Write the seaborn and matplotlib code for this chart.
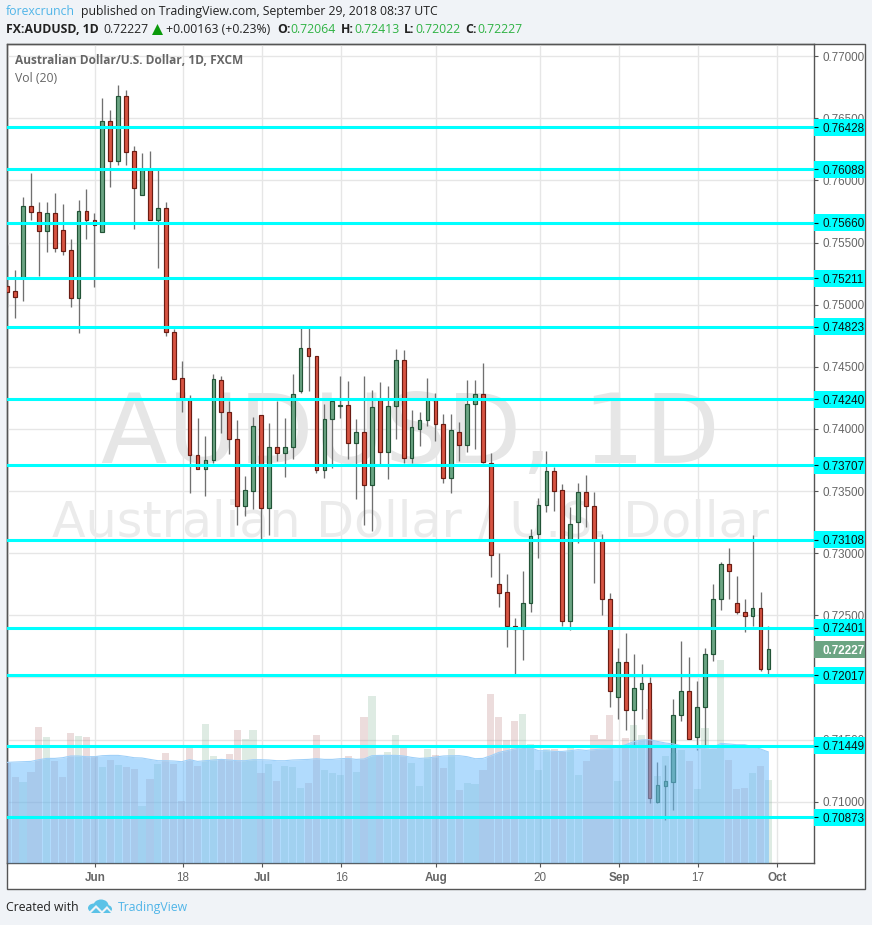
import numpy as np
import pandas as pd
import matplotlib
matplotlib.use('Agg')
import matplotlib.pyplot as plt
from matplotlib.patches import Polygon, Rectangle, Ellipse
import seaborn as sns

W, H = 872, 925

opens = [.75150, .75110, .75214, .75794, .75745, .75593, .75737, .75601, .75440, .75054,
         .75753, .75681, .75584, .76478, .76156, .76679, .76237, .75883, .76084, .75681,
         .75778, .74780, .74410, .74233, .73790, .73677, .73750, .74394, .74136, .73919,
         .73380, .73500, .74112, .73364, .73854, .73806, .73854, .74306, .74652, .74587,
         .73669, .74080, .74185, .74193, .73887, .73975, .73549, .74233, .73814, .74185,
         .74555, .73766, .73999, .74072, .74241, .74040, .73605, .73975, .73870, .74201,
         .74281, .73725, .72752, .72687, .72414, .72390, .72599, .73154, .73388, .73661,
         .73508, .72454, .73251, .73492, .73380, .73106, .72631, .71842, .72124, .71738,
         .71907, .71955, .70998, .71126, .71158, .71697, .71891, .71521, .71762, .72188,
         .72631, .72913, .72599, .72526, .72494, .72559, .72064]
highs = [.75480, .75279, .75866, .76059, .75826, .75826, .75898, .75810, .75528, .75842,
         .75931, .75737, .76663, .76566, .76768, .76728, .76277, .76221, .76237, .76084,
         .75826, .74805, .74547, .74273, .74088, .73943, .74442, .74426, .74225, .74072,
         .73621, .74096, .74112, .74048, .74225, .74088, .74442, .74813, .74813, .74587,
         .74201, .74241, .74426, .74386, .74080, .74426, .74314, .74378, .74346, .74644,
         .74636, .74153, .74136, .74410, .74289, .74120, .74120, .74056, .74394, .74394,
         .74530, .73806, .73001, .72832, .72478, .72856, .73195, .73444, .73822, .73694,
         .73557, .73372, .73565, .73629, .73492, .73154, .72680, .72237, .72358, .72188,
         .72108, .72003, .71320, .71295, .71826, .72294, .72165, .71971, .72237, .72752,
         .72929, .73042, .72816, .72631, .73146, .72687, .72413]
lows = [.74982, .74893, .75030, .75681, .75230, .75424, .75424, .75400, .74982, .74772,
        .75528, .75142, .75584, .75947, .76124, .76124, .75609, .75883, .75681, .75295,
        .74748, .74402, .74136, .73484, .73677, .73460, .73725, .73967, .73798, .73227,
        .73299, .73356, .73114, .73146, .73742, .73613, .73758, .74289, .74306, .73645,
        .73605, .73685, .74088, .73758, .73436, .73227, .73178, .73717, .73597, .73919,
        .73725, .73725, .73862, .74024, .73903, .73565, .73484, .73742, .73814, .73838,
        .73725, .72808, .72567, .72245, .72028, .72140, .72526, .72961, .73332, .73340,
        .72414, .72382, .73082, .73211, .72760, .72502, .71762, .71665, .71577, .71456,
        .71665, .70990, .70990, .70853, .70933, .71649, .71504, .71416, .71440, .72132,
        .72543, .72631, .72510, .72366, .72414, .72052, .72022]
closes = [.75102, .75061, .75794, .75745, .75593, .75737, .75456, .75432, .75054, .75753,
          .75681, .75641, .76478, .76156, .76679, .76229, .75939, .76084, .75681, .75778,
          .74780, .74402, .74249, .73790, .73677, .73750, .74402, .74136, .73919, .73380,
          .73508, .74024, .73364, .73854, .73806, .73854, .74281, .74652, .74587, .73669,
          .74080, .74225, .74193, .73887, .73975, .73549, .74177, .73814, .74185, .74555,
          .73766, .74016, .74072, .74241, .74040, .73605, .73991, .73870, .74201, .74281,
          .73734, .72985, .72680, .72414, .72390, .72599, .73138, .73388, .73661, .73500,
          .72454, .73235, .73492, .73380, .73106, .72631, .71891, .72124, .71738, .71915,
          .71955, .71030, .71134, .71166, .71697, .71891, .71504, .71762, .72188, .72631,
          .72913, .72856, .72526, .72494, .72559, .72068, .72227]

volumes = [100, 86, 81, 91, 136, 126, 102, 86, 130, 127, 126, 107, 96, 103, 98, 96, 94, 57, 84, 99,
           110, 99, 62, 118, 97, 139, 107, 104, 109, 133, 124, 133, 90, 99, 82, 97, 96, 75, 80, 128,
           93, 90, 88, 107, 91, 146, 167, 107, 111, 128, 118, 100, 77, 114, 108, 95, 114, 73, 80, 79,
           93, 169, 146, 123, 142, 149, 119, 93, 114, 114, 111, 118, 88, 102, 128, 124, 148, 82, 125, 138,
           128, 154, 87, 107, 110, 113, 102, 74, 135, 114, 203, 103, 74, 75, 90, 97, 83]
vol_ma = [100.3, 100.7, 101, 101.3, 103, 104.3, 104.3, 105, 106.7, 106.7, 106, 106, 107, 107.3, 107.3,
          106.3, 105, 104.7, 103.3, 102, 102, 101.7, 101, 103, 101.3, 102, 102.7, 103.3, 102.7, 102,
          102, 103, 103, 102.7, 102, 102, 102.7, 103, 103.3, 104, 103.3, 103.3, 104, 104.3, 103.3,
          103.7, 107, 107.3, 107.3, 107.3, 106.7, 105.3, 104.3, 104.7, 105.7, 106.7, 107, 107, 106, 104,
          104.3, 107, 110.3, 112, 113.7, 115.3, 115, 112, 112, 111.3, 111.3, 112, 113, 112.3, 113,
          113.7, 114, 115.3, 118, 121, 122.7, 123, 121.3, 119.7, 118.7, 117, 116, 114.3, 114.3, 115.3,
          119.3, 118.7, 118, 118, 116, 113.7, 110.7]

y_ticks = [.77, .765, .76, .755, .75, .745, .74, .735, .73, .725, .72, .715, .71]
x_tick_pos = [11, 22, 32, 42, 54, 67, 77, 87, 97]
x_tick_labels = ['Jun', '18', 'Jul', '16', 'Aug', '20', 'Sep', '17', 'Oct']
levels = [.76428, .76088, .75660, .75211, .74823, .74240, .73707, .73108, .72401, .72017, .71449, .70873]
last_price = .72227

RED, RED_EDGE = '#d75442', '#6b1c13'
GREEN, GREEN_EDGE = '#6ba583', '#225437'
CYAN = '#00ffff'
AXIS_GREY = '#555555'

sns.set_theme(style='white')
plt.rcParams['font.family'] = ['Liberation Sans', 'DejaVu Sans']


def fx(x):
    return x / W


def fy(y):
    return 1 - y / H


def put(x, y, s, **kw):
    kw.setdefault('va', 'center')
    return fig.text(fx(x), fy(y), s, **kw)


fig = plt.figure(figsize=(W / 100, H / 100), dpi=100, facecolor='#f0f3f7')

# outer white frame, has to stay under the axes
fig.patches.append(Rectangle((fx(6.5), fy(888.5)), fx(858.5), 845 / H, transform=fig.transFigure,
                             facecolor='white', edgecolor=AXIS_GREY, lw=1.0, zorder=-5))

ax_rect = [fx(6.5), fy(862.7), fx(807.8), 819.2 / H]
ax = fig.add_axes(ax_rect, facecolor='none')
vol_ax = fig.add_axes(ax_rect, facecolor='none')
top_ax = fig.add_axes(ax_rect, facecolor='none')

x_lim = (-0.088, 101.78)
y_lim = (.70509, .77102)
idx = np.arange(len(opens))
opens_a, closes_a = np.array(opens), np.array(closes)
up = closes_a >= opens_a

# price pane
ax.set_xlim(x_lim)
ax.set_ylim(y_lim)
ax.set_xticks(np.array(x_tick_pos) + 0.13)
ax.set_xticklabels(x_tick_labels)
ax.yaxis.tick_right()
ax.set_yticks(y_ticks)
# 0.72000 sits fully behind the 0.72017 box
ax.set_yticklabels(['' if v == .72 else f'{v:.5f}' for v in y_ticks])
ax.grid(True, color='#e6e6e6', lw=1.0)
ax.set_axisbelow(True)
ax.tick_params(axis='y', right=True, length=3, width=0.8, color=AXIS_GREY, labelsize=8.4,
               labelcolor='#666666', pad=3)
ax.tick_params(axis='x', bottom=True, length=3, width=0.8, color=AXIS_GREY, labelsize=8.4,
               labelcolor='#666666', pad=4)
for lab in ax.get_xticklabels():
    if lab.get_text().isalpha():
        lab.set_fontweight('bold')
for sp in ax.spines.values():
    sp.set_color(AXIS_GREY)
    sp.set_linewidth(1.0)

# watermark
ax.text(0.5, 0.4879, 'AUDUSD, 1D', transform=ax.transAxes, ha='center', va='baseline', fontsize=70,
        family='DejaVu Sans', color='#e6e6e6', zorder=1)
ax.text(0.5, 0.3976, 'Australian Dollar / U.S. Dollar', transform=ax.transAxes, ha='center', va='baseline',
        fontsize=35.4, family='DejaVu Sans', color='#ebebeb', zorder=1)

# candles
ax.vlines(idx, lows, highs, color='#707070', lw=0.95, zorder=2)
ax.bar(idx, np.abs(closes_a - opens_a), bottom=np.minimum(opens_a, closes_a), width=0.47,
       color=[GREEN if u else RED for u in up], edgecolor=[GREEN_EDGE if u else RED_EDGE for u in up],
       lw=0.85, zorder=3)

# volume pane
vol_df = pd.DataFrame({'bar': idx, 'vol': volumes, 'dir': ['up' if u else 'down' for u in up]})
sns.barplot(data=vol_df, x='bar', y='vol', hue='dir', palette={'up': GREEN, 'down': '#a96262'},
            native_scale=True, dodge=False, width=0.9, alpha=0.22, saturation=1, linewidth=0,
            legend=False, ax=vol_ax)
vol_ax.fill_between(idx, 0, vol_ma, color='#65b9fd', alpha=0.5, lw=0)
sns.lineplot(x=idx, y=vol_ma, color='#9fd0f8', lw=0.8, ax=vol_ax)
vol_ax.set_xlim(x_lim)
vol_ax.set_ylim(0, 819.2)
vol_ax.axis('off')

# horizontal levels and price labels
top_ax.set_xlim(x_lim)
top_ax.set_ylim(y_lim)
top_ax.patch.set_visible(False)
top_ax.xaxis.set_visible(False)
top_ax.yaxis.tick_right()
top_ax.set_axisbelow(False)
for sp in top_ax.spines.values():
    sp.set_visible(False)
box_tr = top_ax.get_yaxis_transform()
box_h = 17 / 12425
box_w = 51 / 807.8
for v in levels:
    top_ax.axhline(v, color=CYAN, lw=2.2, zorder=2)
    top_ax.add_patch(Rectangle((1.0, v - box_h / 2), box_w, box_h, transform=box_tr, clip_on=False,
                               facecolor=CYAN, edgecolor='none', zorder=1))
top_ax.add_patch(Rectangle((1.0, last_price - box_h / 2), box_w, box_h, transform=box_tr, clip_on=False,
                           facecolor=GREEN, edgecolor='none', zorder=1))
tick_vals = levels + [last_price]
top_ax.set_yticks(tick_vals)
top_ax.set_yticklabels([f'{v:.5f}' for v in tick_vals])
top_ax.tick_params(axis='y', right=True, length=3, width=0.8, color='#111111', labelsize=8.4,
                   labelcolor='#111111', pad=3)
last_tick = top_ax.yaxis.get_major_ticks()[-1]
last_tick.tick2line.set_visible(False)
last_tick.label2.set_color('white')
last_tick.label2.set_fontweight('bold')

# chart legend
put(15, 60, 'Australian Dollar/U.S. Dollar, 1D, FXCM', fontsize=8.55, fontweight='bold', color='#666666',
    family='Open Sans')
put(15, 78, 'Vol (20)', fontsize=8.8, color='#666666', family='Open Sans')

# header
HEAD = dict(family='Open Sans', fontsize=8.8)
put(6, 11.5, 'forexcrunch', color='#50b5e8', **HEAD)
put(81, 11.5, 'published on TradingView.com, September 29, 2018 08:37 UTC', color='#222222', **HEAD)
put(6, 29.5, 'FX:AUDUSD, 1D', color='#222222', fontweight='bold', **HEAD)
put(103, 29.5, '0.72227', color='#222222', **HEAD)
fig.patches.append(Polygon([(fx(152), fy(35)), (fx(163), fy(35)), (fx(157.5), fy(24))],
                           transform=fig.transFigure, facecolor='#0b9a0b', edgecolor='none'))
put(166, 29.5, '+0.00163 (+0.23%)', color='#222222', **HEAD)
for x_lab, lab, x_val, val in [(277, 'O:', 290, '0.72064'), (341, 'H:', 354, '0.72413'),
                               (404, 'L:', 415, '0.72022'), (465, 'C:', 477, '0.72227')]:
    put(x_lab, 29.5, lab, color='#222222', fontweight='bold', **HEAD)
    put(x_val, 29.5, val, color='#2fb344', **HEAD)

# footer
put(6, 907.5, 'Created with', color='#222222', **HEAD)
put(118, 907.5, 'TradingView', color='#50b5e8', **HEAD)
LOGO = '#5bc2e7'
for cx, cy, ew, eh in [(94, 908, 12, 9), (101, 905.5, 15, 12), (107, 909, 10, 8)]:
    fig.patches.append(Ellipse((fx(cx), fy(cy)), fx(ew), eh / H, transform=fig.transFigure,
                               facecolor=LOGO, edgecolor='none'))
fig.patches.append(Rectangle((fx(90), fy(913)), fx(21), 5 / H, transform=fig.transFigure,
                             facecolor=LOGO, edgecolor='none'))
fig.patches.append(Polygon([(fx(88), fy(913)), (fx(96), fy(905)), (fx(102), fy(911)), (fx(107), fy(906)),
                            (fx(112), fy(912)), (fx(111), fy(913)), (fx(107), fy(909)), (fx(102), fy(914)),
                            (fx(96), fy(908)), (fx(90), fy(914))],
                           transform=fig.transFigure, facecolor='#f0f3f7', edgecolor='none'))

fig.savefig('out.png', dpi=100, facecolor=fig.get_facecolor())
